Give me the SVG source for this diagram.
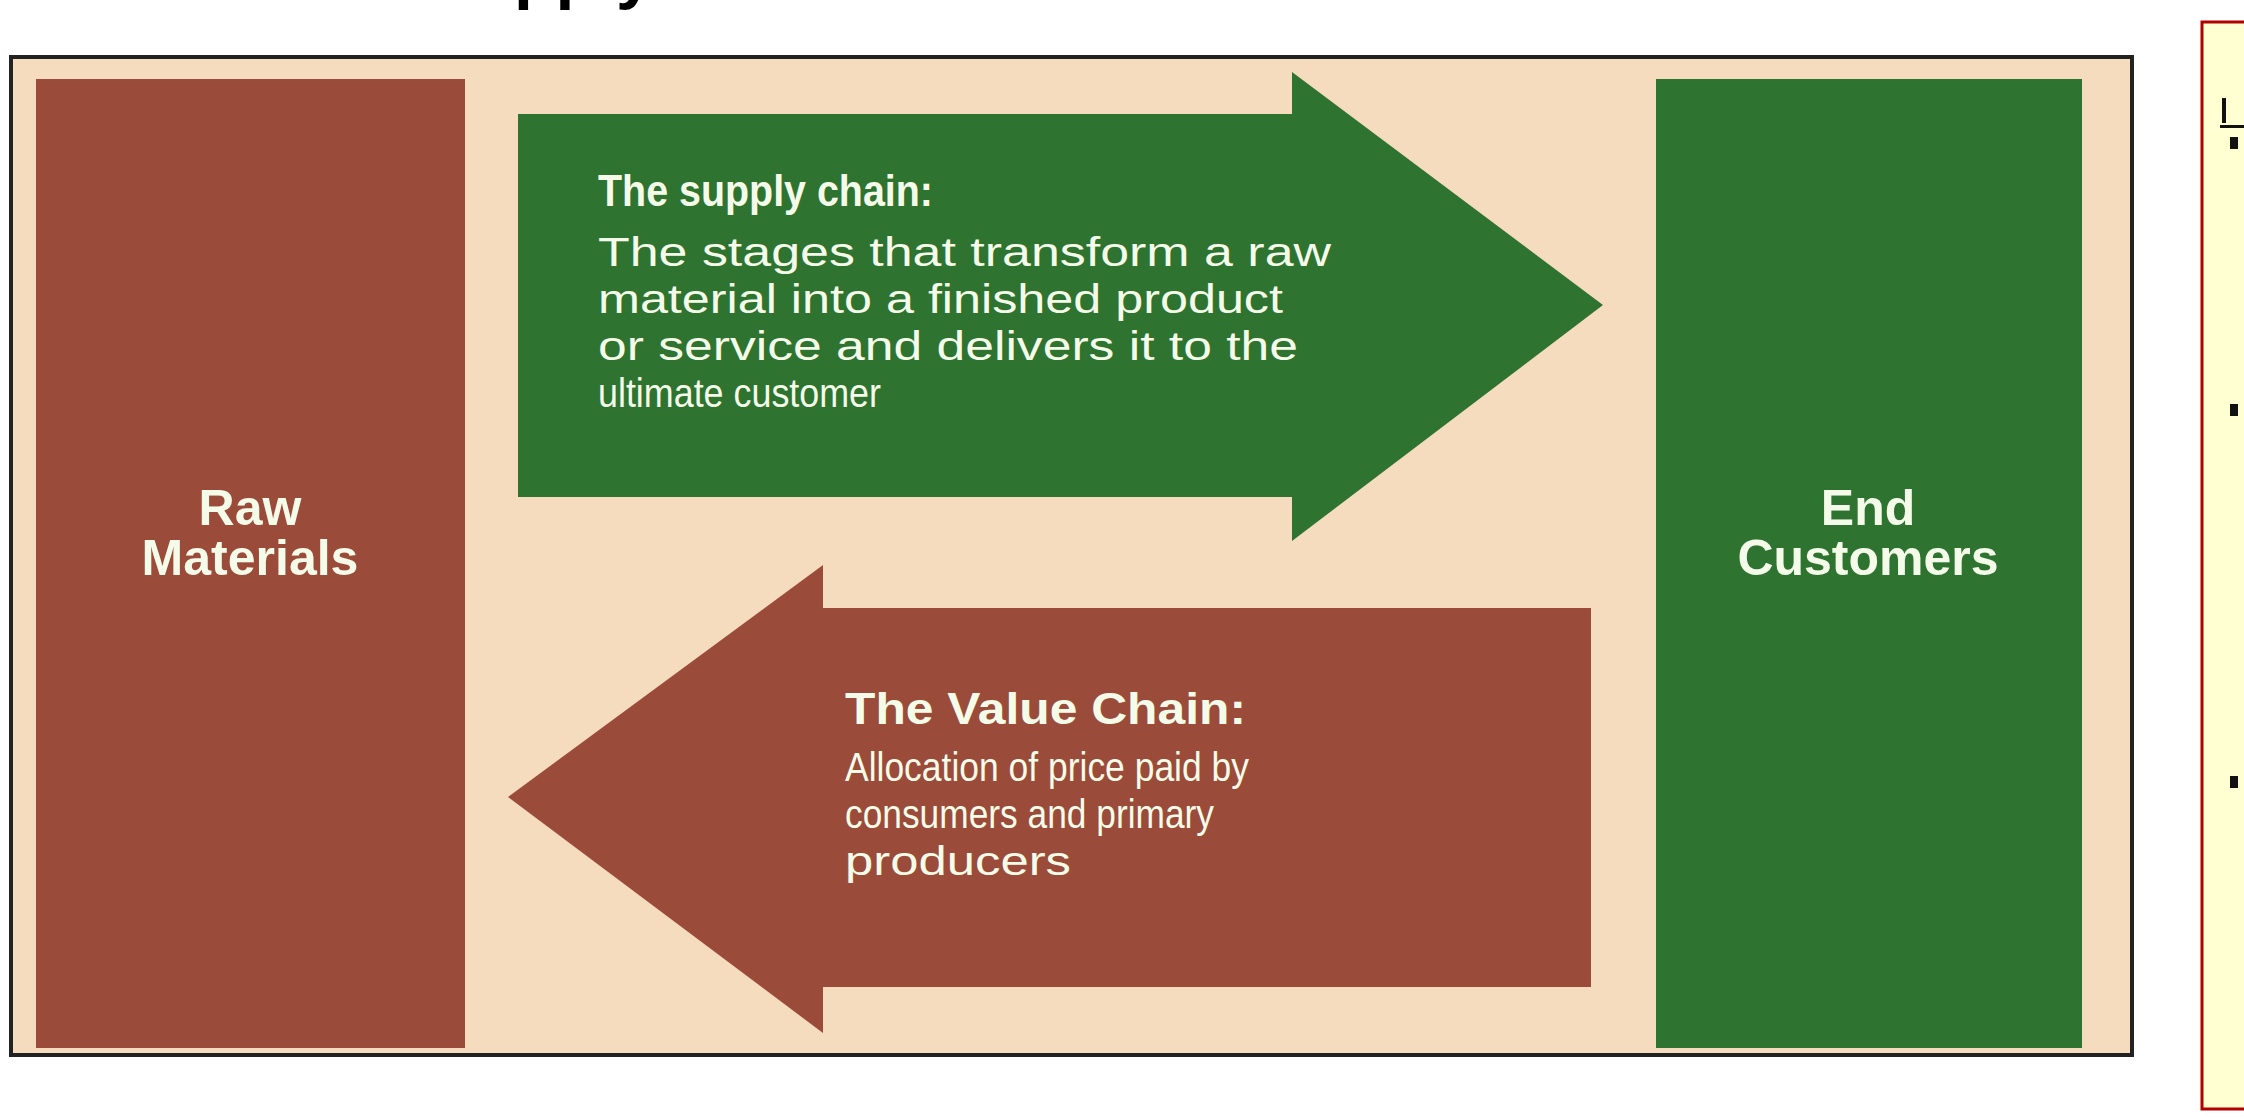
<svg xmlns="http://www.w3.org/2000/svg" width="2244" height="1118" viewBox="0 0 2244 1118">
<style>
.t{font-family:"Liberation Sans",Arial,sans-serif;fill:#f4fbe8}
.h{font-weight:bold;font-size:44px}
.b{font-size:40px}
.n{font-weight:bold;font-size:50px}
</style>
<rect width="2244" height="1118" fill="#ffffff"/>
<text x="514" y="-4" font-family="Liberation Sans,Arial,sans-serif" font-weight="bold" font-size="68" fill="#000">pply</text>
<rect x="11" y="57" width="2121" height="998" fill="#f6dcbf" stroke="#222" stroke-width="4"/>
<g id="raw">
<rect x="36" y="79" width="429" height="969" fill="#9b4b39"/>
<text class="t n" x="250" y="525" text-anchor="middle">Raw</text>
<text class="t n" x="250" y="575" text-anchor="middle">Materials</text>
</g>
<g id="end">
<rect x="1656" y="79" width="426" height="969" fill="#2e7330"/>
<text class="t n" x="1868" y="525" text-anchor="middle">End</text>
<text class="t n" x="1868" y="575" text-anchor="middle">Customers</text>
</g>
<g id="connectors">
<g id="supply">
<polygon points="518,114 1292,114 1292,72 1603,305 1292,541 1292,497 518,497" fill="#2e7330"/>
<text class="t h" x="598" y="206" textLength="335" lengthAdjust="spacingAndGlyphs">The supply chain:</text>
<text class="t b" x="598" y="266" textLength="733" lengthAdjust="spacingAndGlyphs">The stages that transform a raw</text>
<text class="t b" x="598" y="313" textLength="685" lengthAdjust="spacingAndGlyphs">material into a finished product</text>
<text class="t b" x="598" y="360" textLength="700" lengthAdjust="spacingAndGlyphs">or service and delivers it to the</text>
<text class="t b" x="598" y="407" textLength="283" lengthAdjust="spacingAndGlyphs">ultimate customer</text>
</g>
<g id="value">
<polygon points="1591,608 823,608 823,565 508,797 823,1033 823,987 1591,987" fill="#9b4b39"/>
<text class="t h" x="845" y="724" textLength="401" lengthAdjust="spacingAndGlyphs">The Value Chain:</text>
<text class="t b" x="845" y="781" textLength="404" lengthAdjust="spacingAndGlyphs">Allocation of price paid by</text>
<text class="t b" x="845" y="828" textLength="369" lengthAdjust="spacingAndGlyphs">consumers and primary</text>
<text class="t b" x="845" y="875" textLength="226" lengthAdjust="spacingAndGlyphs">producers</text>
</g>
</g>
<rect x="2202" y="22" width="60" height="1087" fill="#ffffd2" stroke="#b00000" stroke-width="3"/>
<rect x="2222" y="98" width="4" height="25" fill="#111"/>
<rect x="2220" y="125" width="24" height="3" fill="#111"/>
<rect x="2230" y="137" width="8" height="12" fill="#111"/>
<rect x="2230" y="404" width="8" height="12" fill="#111"/>
<rect x="2230" y="776" width="8" height="12" fill="#111"/>
</svg>
